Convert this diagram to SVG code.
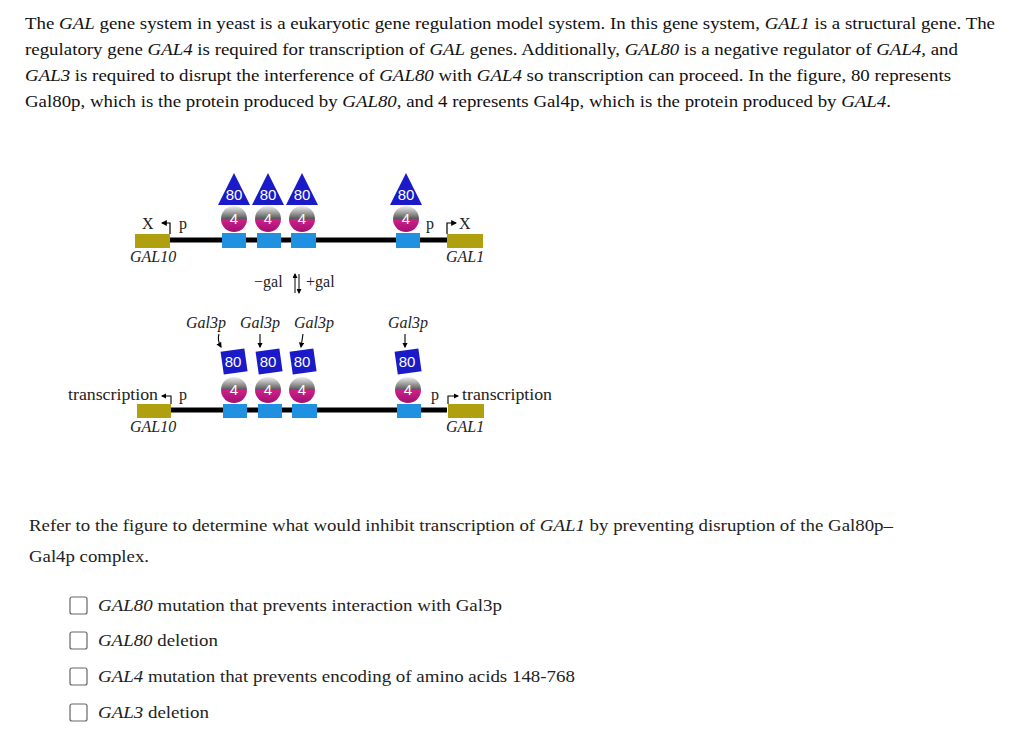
<svg xmlns="http://www.w3.org/2000/svg" width="1024" height="753" viewBox="0 0 1024 753">
<defs>
<linearGradient id="sph" x1="0" y1="0" x2="0" y2="1"><stop offset="0" stop-color="#eee"/><stop offset="0.5" stop-color="#555"/><stop offset="0.5" stop-color="#d0208a"/><stop offset="1" stop-color="#a01070"/></linearGradient>
<marker id="ah" markerWidth="5" markerHeight="5" refX="4" refY="2.5" orient="auto"><path d="M0,0L5,2.5L0,5z" fill="#000"/></marker>
</defs>
<style>
.t{font-family:"Liberation Serif",serif;font-size:17px;fill:#111}
.f{font-family:"Liberation Serif",serif;font-size:16px;fill:#222}
.q{font-family:"Liberation Serif",serif;font-size:17px;fill:#222}
.w{font-family:"Liberation Sans",sans-serif;font-size:15px;fill:#fff;text-anchor:middle}
.g{fill:#b0a010}.b{fill:#2090e0}.tri{fill:#1a1ac8}.sq{fill:#1a1ac8}
.cb{fill:#fff;stroke:#666;stroke-width:1.2}
</style>
<rect width="1024" height="753" fill="#fff"/>
<g id="intro" class="t">
<text x="25" y="29" textLength="970" lengthAdjust="spacingAndGlyphs">The <tspan font-style="italic">GAL</tspan> gene system in yeast is a eukaryotic gene regulation model system. In this gene system, <tspan font-style="italic">GAL1</tspan> is a structural gene. The</text>
<text x="25" y="55" textLength="933" lengthAdjust="spacingAndGlyphs">regulatory gene <tspan font-style="italic">GAL4</tspan> is required for transcription of <tspan font-style="italic">GAL</tspan> genes. Additionally, <tspan font-style="italic">GAL80</tspan> is a negative regulator of <tspan font-style="italic">GAL4,</tspan> and</text>
<text x="25" y="81" textLength="926" lengthAdjust="spacingAndGlyphs"><tspan font-style="italic">GAL3</tspan> is required to disrupt the interference of <tspan font-style="italic">GAL80</tspan> with <tspan font-style="italic">GAL4</tspan> so transcription can proceed. In the figure, 80 represents</text>
<text x="25" y="107" textLength="866" lengthAdjust="spacingAndGlyphs">Gal80p, which is the protein produced by <tspan font-style="italic">GAL80</tspan>, and 4 represents Gal4p, which is the protein produced by <tspan font-style="italic">GAL4</tspan>.</text>
</g>
<g id="top">
<line x1="170" y1="240" x2="447" y2="240" stroke="#000" stroke-width="5"/>
<rect class="g" x="135" y="234" width="35" height="14"/><rect class="g" x="447" y="234" width="36" height="14"/>
<rect class="b" x="222" y="233" width="24" height="15"/><rect class="b" x="257" y="233" width="24" height="15"/><rect class="b" x="291" y="233" width="25" height="15"/><rect class="b" x="396" y="233" width="24" height="15"/>
<circle cx="234" cy="219" r="13" fill="url(#sph)"/><circle cx="268" cy="219" r="13" fill="url(#sph)"/><circle cx="302" cy="219" r="13" fill="url(#sph)"/><circle cx="406" cy="219" r="13" fill="url(#sph)"/>
<text class="w" x="234" y="224">4</text><text class="w" x="268" y="224">4</text><text class="w" x="302" y="224">4</text><text class="w" x="406" y="224">4</text>
<polygon class="tri" points="234,173 218,205 250,205"/><polygon class="tri" points="268,173 252,205 284,205"/><polygon class="tri" points="302,173 286,205 318,205"/><polygon class="tri" points="406,173 390,205 422,205"/>
<text class="w" x="234" y="200">80</text><text class="w" x="268" y="200">80</text><text class="w" x="302" y="200">80</text><text class="w" x="406" y="200">80</text>
<text class="f" x="142" y="229" font-size="19">X</text><text class="f" x="179" y="229">p</text>
<path d="M170,234V223H162" fill="none" stroke="#000" stroke-width="1.2" marker-end="url(#ah)"/>
<text class="f" x="426" y="229">p</text><text class="f" x="459" y="229" font-size="19">X</text>
<path d="M447,234V223H456" fill="none" stroke="#000" stroke-width="1.2" marker-end="url(#ah)"/>
<text class="f" x="130" y="262" font-style="italic">GAL10</text><text class="f" x="446" y="262" font-style="italic">GAL1</text>
</g>
<g id="switch">
<text class="f" x="254" y="287">−gal</text><text class="f" x="306" y="287">+gal</text>
<line x1="295" y1="293" x2="295" y2="274" stroke="#000" marker-end="url(#ah)"/>
<line x1="299" y1="274" x2="299" y2="293" stroke="#000" marker-end="url(#ah)"/>
</g>
<g id="bottom">
<line x1="170" y1="410" x2="447" y2="410" stroke="#000" stroke-width="5"/>
<rect class="g" x="137" y="404" width="34" height="14"/><rect class="g" x="448" y="404" width="36" height="14"/>
<rect class="b" x="223" y="404" width="24" height="14"/><rect class="b" x="258" y="404" width="24" height="14"/><rect class="b" x="292" y="404" width="25" height="14"/><rect class="b" x="397" y="404" width="24" height="14"/>
<circle cx="234" cy="390" r="13" fill="url(#sph)"/><circle cx="268" cy="390" r="13" fill="url(#sph)"/><circle cx="302" cy="390" r="13" fill="url(#sph)"/><circle cx="408" cy="390" r="13" fill="url(#sph)"/>
<text class="w" x="234" y="395">4</text><text class="w" x="268" y="395">4</text><text class="w" x="302" y="395">4</text><text class="w" x="408" y="395">4</text>
<rect class="sq" x="222" y="350" width="24" height="23" transform="rotate(-8 234 361)"/><rect class="sq" x="257" y="350" width="24" height="23" transform="rotate(-8 269 361)"/><rect class="sq" x="291" y="350" width="24" height="23" transform="rotate(-8 303 361)"/><rect class="sq" x="396" y="350" width="24" height="23" transform="rotate(-8 408 361)"/>
<text class="w" x="233" y="367">80</text><text class="w" x="268" y="367">80</text><text class="w" x="302" y="367">80</text><text class="w" x="407" y="367">80</text>
<g class="f" font-style="italic"><text x="186" y="328">Gal3p</text><text x="240" y="328">Gal3p</text><text x="294" y="328">Gal3p</text><text x="388" y="328">Gal3p</text></g>
<g stroke="#000" stroke-width="1.1" fill="none">
<path d="M219,334Q217,340 221,347" marker-end="url(#ah)"/><line x1="260" y1="334" x2="260" y2="347" marker-end="url(#ah)"/><line x1="303" y1="334" x2="301" y2="347" marker-end="url(#ah)"/><line x1="405" y1="334" x2="405" y2="347" marker-end="url(#ah)"/>
<path d="M171,404V396H162" marker-end="url(#ah)"/><path d="M448,404V396H458" marker-end="url(#ah)"/>
</g>
<text class="f" x="68" y="400" textLength="90" lengthAdjust="spacingAndGlyphs">transcription</text><text class="f" x="179" y="400">p</text>
<text class="f" x="431" y="400">p</text><text class="f" x="462" y="400" textLength="90" lengthAdjust="spacingAndGlyphs">transcription</text>
<text class="f" x="130" y="432" font-style="italic">GAL10</text><text class="f" x="446" y="432" font-style="italic">GAL1</text>
</g>
<g id="question" class="q">
<text x="29" y="531" textLength="864" lengthAdjust="spacingAndGlyphs">Refer to the figure to determine what would inhibit transcription of <tspan font-style="italic">GAL1</tspan> by preventing disruption of the Gal80p–</text>
<text x="29" y="562" textLength="120" lengthAdjust="spacingAndGlyphs">Gal4p complex.</text>
</g>
<g id="options" class="q">
<rect class="cb" x="70" y="597" width="17" height="17" rx="2"/><text x="98" y="611" textLength="404" lengthAdjust="spacingAndGlyphs"><tspan font-style="italic">GAL80</tspan> mutation that prevents interaction with Gal3p</text>
<rect class="cb" x="70" y="632" width="17" height="17" rx="2"/><text x="98" y="646" textLength="120" lengthAdjust="spacingAndGlyphs"><tspan font-style="italic">GAL80</tspan> deletion</text>
<rect class="cb" x="70" y="668" width="17" height="17" rx="2"/><text x="98" y="682" textLength="477" lengthAdjust="spacingAndGlyphs"><tspan font-style="italic">GAL4</tspan> mutation that prevents encoding of amino acids 148-768</text>
<rect class="cb" x="70" y="704" width="17" height="17" rx="2"/><text x="98" y="718" textLength="111" lengthAdjust="spacingAndGlyphs"><tspan font-style="italic">GAL3</tspan> deletion</text>
</g>
</svg>
